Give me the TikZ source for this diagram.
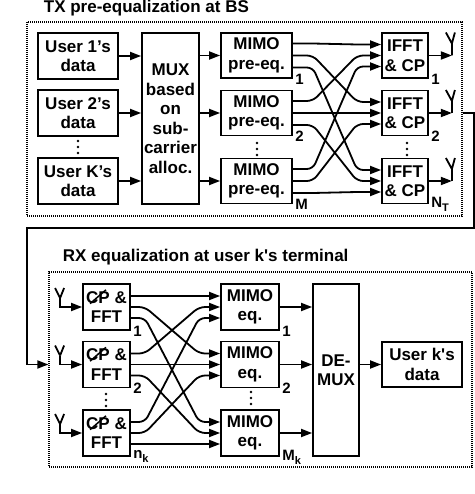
\documentclass[tikz,border=0pt]{standalone}
\usepackage{fontspec}
\setmainfont{Liberation Sans}
\usepackage{graphicx}
\usetikzlibrary{arrows.meta,calc}
\newcommand{\crosscp}{\ooalign{CP\cr\hidewidth\raisebox{-1pt}{\rotatebox{41}{\rule{21pt}{1.5pt}}}\hidewidth}}
\newcommand{\subtxt}[1]{\raisebox{-4pt}{\fontsize{11}{11}\selectfont #1}}

\begin{document}
\begin{tikzpicture}[x=1pt,y=-1pt,line width=1.8pt,
  font=\bfseries\fontsize{17}{19.5}\selectfont,
  blk/.style={draw,align=center,inner sep=0pt},
  userbox/.style={blk,minimum width=80pt,minimum height=46pt},
  mimobox/.style={blk,minimum width=71pt,minimum height=45pt},
  eqbox/.style={blk,minimum width=58pt,minimum height=46pt},
  fftbox/.style={blk,minimum width=47pt,minimum height=46pt},
  arr/.style={-{Triangle[length=11pt,width=8pt]}},
  frame/.style={draw,line width=1.3pt,dash pattern=on 1pt off 1pt,inner sep=0pt},
  lbl/.style={anchor=west,inner sep=1.5pt,font=\bfseries\fontsize{15}{15}\selectfont},
  threedots/.pic={\foreach \k in {-6,0,6} \fill (0,\k) circle (1.4pt);}]
\useasboundingbox (0,0) rectangle (474,494);

\node[anchor=base west,inner sep=0pt] (txtitle) at (43,13) {TX pre-equalization at BS};
\node[frame,minimum width=435pt,minimum height=194pt] (tx) at (244.5,119) {};

\node[userbox] (user1) at (78,56) {User 1's\\data};
\node[userbox] (user2) at (78,113) {User 2's\\data};
\node[userbox] (user3) at (78,181) {User K's\\data};
\node[blk,minimum width=57pt,minimum height=171pt] (mux) at (170.5,118.5) {MUX\\based\\on\\sub-\\carrier\\alloc.};
\foreach \n/\y in {1/55.5,2/113,3/181} {
  \node[mimobox] (pre\n) at (256.5,\y) {MIMO\\pre-eq.};
  \node[blk,minimum width=46pt,minimum height=45pt] (ifft\n) at (405,\y) {IFFT\\\& CP};
}
\pic at (78,147) {threedots};
\pic at (257,149) {threedots};
\pic at (407,149) {threedots};

\node[lbl] (prelbl1) at (pre1.south east) {1};
\node[lbl] (prelbl2) at (pre2.south east) {2};
\node[lbl] (prelbl3) at (pre3.south east) {M};
\node[lbl] (ifftlbl1) at (ifft1.south east) {1};
\node[lbl] (ifftlbl2) at (ifft2.south east) {2};
\node[lbl] (ifftlbl3) at (ifft3.south east) {N\subtxt{T}};

\foreach \n in {1,2,3} {
  \draw[arr] (user\n) -- (user\n -| mux.west);
  \draw[arr] (mux.east |- pre\n) -- (pre\n);
  \coordinate (tant\n) at ($(ifft\n.east)+(23,0)$);
  \draw[arr] (ifft\n) -- (tant\n);
  \draw (tant\n) -- ++(0,-12) -- ++(-6,-11) ++(6,11) -- ++(3,-11);
}
\foreach \i in {1,2,3}
  \foreach \j in {1,2,3}
    \draw[arr,rounded corners=6pt] ($(pre\i.east)+(0,{(\j-2)*12})$) -- ++(20,0)
      -- ($(ifft\j.west)+(-24,{(\i-2)*11})$) -- ++(24,0);

\node[anchor=base west,inner sep=0pt] (rxtitle) at (62,261) {RX equalization at user k\textquotesingle s terminal};
\node[frame,minimum width=423pt,minimum height=195pt] (rx) at (260.5,369.5) {};

\foreach \n/\y in {1/307,2/364.5,3/433} {
  \node[fftbox] (fft\n) at (106.5,\y) {\crosscp{} \&\\FFT};
  \node[eqbox] (meq\n) at (250,\y) {MIMO\\eq.};
}
\node[blk,minimum width=46pt,minimum height=172pt] (demux) at (336,370) {DE-\\MUX};
\node[userbox,minimum height=45pt] (userk) at (422,364.5) {User k\textquotesingle s\\data};
\pic at (106,400) {threedots};
\pic at (251,398) {threedots};

\node[lbl] (fftlbl1) at (fft1.south east) {1};
\node[lbl] (fftlbl2) at (fft2.south east) {2};
\node[lbl] (fftlbl3) at (fft3.south east) {n\subtxt{k}};
\node[lbl] (meqlbl1) at (meq1.south east) {1};
\node[lbl] (meqlbl2) at (meq2.south east) {2};
\node[lbl] (meqlbl3) at (meq3.south east) {M\subtxt{k}};

\foreach \n in {1,2,3} {
  \coordinate (rant\n) at ($(fft\n.west)+(-22,-9)$);
  \draw (rant\n) -- ++(-5,-10) ++(5,10) -- ++(4,-10);
  \draw[arr] (rant\n) |- (fft\n.west);
  \draw[arr] (meq\n) -- (meq\n -| demux.west);
}
\foreach \i in {1,2,3}
  \foreach \j in {1,2,3}
    \draw[arr,rounded corners=6pt] ($(fft\i.east)+(0,{(\j-2)*11})$) -- ++(14,0)
      -- ($(meq\j.west)+(-21,{(\i-2)*11})$) -- ++(21,0);
\draw[arr] (demux.east |- userk) -- (userk);

\coordinate (fbturn) at (27,228);
\draw[arr] (tx.east |- ifft2) -- ++(11,0) |- (fbturn) |- (rx.west |- fft2);
\end{tikzpicture}
\end{document}
